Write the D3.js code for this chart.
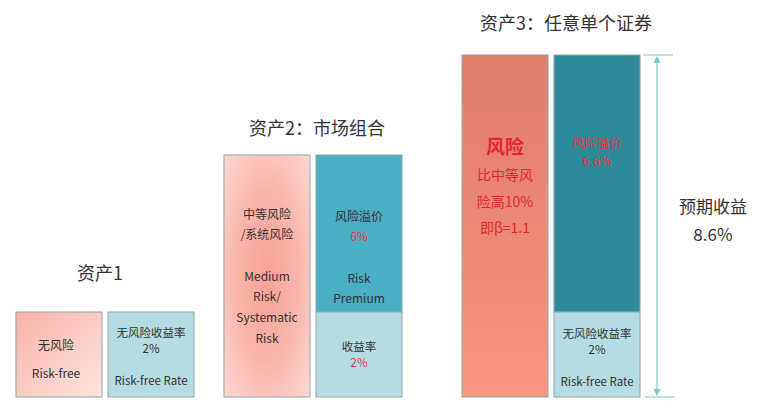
<!DOCTYPE html>
<html><head><meta charset="utf-8">
<script src="https://cdn.jsdelivr.net/npm/d3@7/dist/d3.min.js"></script>
<style>
html,body{margin:0;padding:0;background:#fff;}
svg{display:block;font-family:"Noto Sans CJK SC","Noto Sans",sans-serif;}
</style></head>
<body><svg id="c" width="764" height="412"></svg>
<script>
// ---- data ----
const assets = ["资产1", "资产2：市场组合", "资产3：任意单个证券"];
const riskFreeRate = [2, 2, 2];          // %
const riskPremium = [0, 6, 6.6];         // %
const expectedReturn = [2, 8, 8.6];      // %
const riskLabels = [
  ["无风险", "", "Risk-free"],
  ["中等风险", "/系统风险", "", "Medium", "Risk/", "Systematic", "Risk"],
  ["风险", "比中等风", "险高10%", "即β=1.1"]
];
const premiumLabels = [null, ["风险溢价", "6%", "", "Risk", "Premium"], ["风险溢价", "6.6%"]];
const rfLabels = [["无风险收益率", "2%", "", "Risk-free Rate"], ["收益率", "2%"], ["无风险收益率", "2%", "", "Risk-free Rate"]];
const expectedLabel = ["预期收益", "8.6%"];

// ---- scales ----
const svg = d3.select("#c");
const y = d3.scaleLinear().domain([0, 2, 8, 8.6]).range([397, 312, 155, 55]);
const gx = d3.scaleOrdinal().domain(assets).range([16, 224, 462]);
const boxW = 86, gap = 6;

// gradients
const defs = svg.append("defs");
const g1 = defs.append("linearGradient").attr("id", "pink0").attr("x1", 0).attr("y1", 0).attr("x2", 1).attr("y2", 1);
g1.append("stop").attr("offset", 0).attr("stop-color", "#fbb3aa");
g1.append("stop").attr("offset", 1).attr("stop-color", "#fde3de");
const g2 = defs.append("radialGradient").attr("id", "pink1").attr("cx", 0.5).attr("cy", 0.5).attr("r", 0.8);
g2.append("stop").attr("offset", 0).attr("stop-color", "#f8a195");
g2.append("stop").attr("offset", 0.45).attr("stop-color", "#fab6ac");
g2.append("stop").attr("offset", 1).attr("stop-color", "#fde2dd");
const g3 = defs.append("linearGradient").attr("id", "pink2").attr("x1", 0).attr("y1", 0).attr("x2", 0).attr("y2", 1);
g3.append("stop").attr("offset", 0).attr("stop-color", "#e07d6c");
g3.append("stop").attr("offset", 1).attr("stop-color", "#f8967f");
const premiumColors = [null, "#4aaec4", "#2f8b9c"];
const rfColor = "#b4dce2";
const stroke = "#8fa7a8";

function lines(g, arr, cx, y0, dy, opts) {
  arr.forEach((t, i) => {
    if (!t) return;
    const o = (opts && opts(i, t)) || {};
    g.append("text").attr("x", cx).attr("y", y0 + i * dy)
      .attr("text-anchor", "middle").attr("dominant-baseline", "central")
      .attr("font-size", o.size || 12).attr("fill", o.fill || "#333")
      .attr("font-weight", o.weight || "normal")
      .text(t);
  });
}

assets.forEach((a, i) => {
  const x0 = gx(a);
  const g = svg.append("g");
  // risk column
  g.append("rect").attr("x", x0).attr("y", y(expectedReturn[i]))
    .attr("width", boxW).attr("height", y(0) - y(expectedReturn[i]))
    .attr("fill", `url(#pink${i})`).attr("stroke", stroke).attr("stroke-width", 1);
  const x1 = x0 + boxW + gap;
  // premium part
  if (riskPremium[i] > 0) {
    g.append("rect").attr("x", x1).attr("y", y(riskFreeRate[i] + riskPremium[i]))
      .attr("width", boxW).attr("height", y(riskFreeRate[i]) - y(riskFreeRate[i] + riskPremium[i]))
      .attr("fill", premiumColors[i]).attr("stroke", stroke).attr("stroke-width", 1);
  }
  g.append("rect").attr("x", x1).attr("y", y(riskFreeRate[i]))
    .attr("width", boxW).attr("height", y(0) - y(riskFreeRate[i]))
    .attr("fill", rfColor).attr("stroke", stroke).attr("stroke-width", 1);
});

// titles
svg.append("text").attr("x", 100).attr("y", 272).attr("text-anchor", "middle").attr("dominant-baseline", "central")
  .attr("font-size", 18).attr("fill", "#333").text(assets[0]);
svg.append("text").attr("x", 317).attr("y", 127).attr("text-anchor", "middle").attr("dominant-baseline", "central")
  .attr("font-size", 18).attr("fill", "#333").text(assets[1]);
svg.append("text").attr("x", 566).attr("y", 22).attr("text-anchor", "middle").attr("dominant-baseline", "central")
  .attr("font-size", 18).attr("fill", "#333").text(assets[2]);

const T = svg.append("g");
const cxL = i => gx(assets[i]) + boxW / 2;
const cxR = i => gx(assets[i]) + boxW + gap + boxW / 2;
const red = "#e03a4a";
// asset 1
lines(T, riskLabels[0], cxL(0) - 3, 344, 14);
lines(T, rfLabels[0], cxR(0), 332, 16, () => ({size: 11.5}));
// asset 2
lines(T, riskLabels[1], cxL(1), 213, 20.7);
lines(T, premiumLabels[1], cxR(1), 215, 20.7, (i) => i === 1 ? {fill: red} : null);
lines(T, rfLabels[1], cxR(1), 346, 16, (i) => i === 1 ? {fill: red, size: 11.5} : {size: 11.5});
// asset 3
lines(T, riskLabels[2].slice(0, 1), cxL(2), 145, 0, () => ({size: 19, fill: "#e8252f", weight: "bold"}));
lines(T, riskLabels[2].slice(1), cxL(2), 174, 26.5, () => ({size: 14, fill: "#e8252f"}));
lines(T, premiumLabels[2], cxR(2), 142, 18, () => ({size: 12.5, fill: "#e63344"}));
lines(T, rfLabels[2], cxR(2), 333, 16, () => ({size: 11.5}));

// expected return arrow
const ax = 657;
const A = svg.append("g").attr("stroke", "#7cc5c9").attr("fill", "#7cc5c9");
A.append("line").attr("x1", 643).attr("x2", 673).attr("y1", y(expectedReturn[2])).attr("y2", y(expectedReturn[2])).attr("stroke-width", 1);
A.append("line").attr("x1", 645).attr("x2", 675).attr("y1", y(0)).attr("y2", y(0)).attr("stroke-width", 1);
A.append("line").attr("x1", ax).attr("x2", ax).attr("y1", y(expectedReturn[2]) + 4).attr("y2", y(0) - 4).attr("stroke-width", 1.2);
const t0 = y(expectedReturn[2]) + 1, b0 = y(0) - 1;
A.append("path").attr("stroke", "none").attr("d", `M${ax},${t0} L${ax - 3.5},${t0 + 7} L${ax + 3.5},${t0 + 7} Z`);
A.append("path").attr("stroke", "none").attr("d", `M${ax},${b0} L${ax - 3.5},${b0 - 7} L${ax + 3.5},${b0 - 7} Z`);
lines(svg.append("g"), expectedLabel, 713, 205, 28, () => ({size: 17}));
</script></body></html>
